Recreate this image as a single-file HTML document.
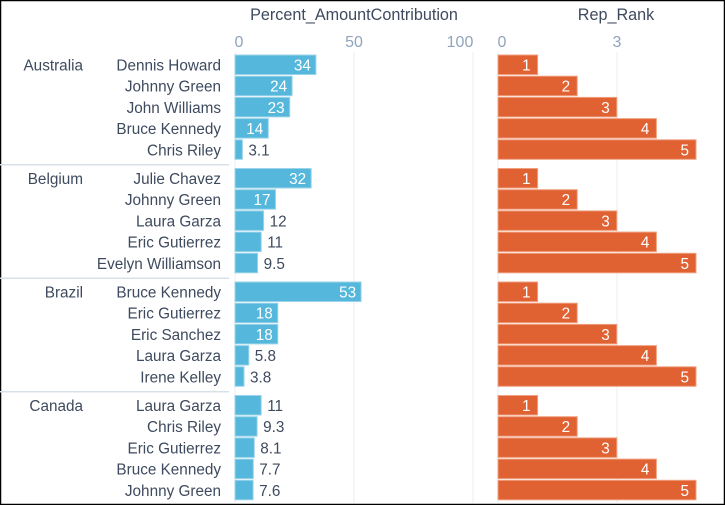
<!DOCTYPE html>
<html><head><meta charset="utf-8"><style>
html,body{margin:0;padding:0;background:#fff}
svg{display:block;font-family:"Liberation Sans",sans-serif;font-size:15.3px}
.n{fill:#3e4a5e;text-anchor:end}
.o{fill:#3e4a5e}
.w{fill:#fff;text-anchor:end}
.b{fill:#54b7db;stroke:#9bd4ea;stroke-width:1}
.r{fill:#e06233;stroke:#f0a080;stroke-width:1}
</style></head><body>
<svg width="725" height="505" viewBox="0 0 725 505">
<rect x="0.5" y="0.5" width="724" height="504" fill="#fff" stroke="#000" stroke-width="1.5"/>
<text x="354" y="20" fill="#3e4a5e" text-anchor="middle" font-size="16.2">Percent_AmountContribution</text>
<text x="616" y="20" fill="#3e4a5e" text-anchor="middle" font-size="16.2">Rep_Rank</text>
<g fill="#90a4bc" text-anchor="middle" font-size="16">
<text x="239" y="47">0</text><text x="354" y="47">50</text><text x="460" y="47">100</text>
<text x="502" y="47">0</text><text x="617" y="47">3</text>
</g>
<g stroke="#e8edf3" stroke-width="1">
<line x1="235" y1="52" x2="235" y2="503"/><line x1="354" y1="52" x2="354" y2="503"/><line x1="473" y1="52" x2="473" y2="503"/>
<line x1="498" y1="52" x2="498" y2="503"/><line x1="617" y1="52" x2="617" y2="503"/>
</g>
<g stroke="#d8e0ea" stroke-width="1.5">
<line x1="0" y1="164.7" x2="229" y2="164.7"/><line x1="0" y1="278.2" x2="229" y2="278.2"/><line x1="0" y1="391.7" x2="229" y2="391.7"/>
</g>

<!-- Australia -->
<g transform="translate(0,55)">
<text x="83" y="15.5" class="n">Australia</text>
<g><text x="221" y="15.5" class="n">Dennis Howard</text><rect x="235" y="0" width="80.9" height="19.5" class="b"/><text x="310.9" y="15.5" class="w">34</text></g>
<g transform="translate(0,21.2)"><text x="221" y="15.5" class="n">Johnny Green</text><rect x="235" y="0" width="57.1" height="19.5" class="b"/><text x="287.1" y="15.5" class="w">24</text></g>
<g transform="translate(0,42.4)"><text x="221" y="15.5" class="n">John Williams</text><rect x="235" y="0" width="54.7" height="19.5" class="b"/><text x="284.7" y="15.5" class="w">23</text></g>
<g transform="translate(0,63.6)"><text x="221" y="15.5" class="n">Bruce Kennedy</text><rect x="235" y="0" width="33.3" height="19.5" class="b"/><text x="263.3" y="15.5" class="w">14</text></g>
<g transform="translate(0,84.8)"><text x="221" y="15.5" class="n">Chris Riley</text><rect x="235" y="0" width="7.4" height="19.5" class="b"/><text x="248.4" y="15.5" class="o">3.1</text></g>
<rect x="498" y="0" width="39.6" height="19.5" class="r"/><text x="530.6" y="15.5" class="w">1</text>
<rect x="498" y="21.2" width="79.2" height="19.5" class="r"/><text x="570.2" y="36.7" class="w">2</text>
<rect x="498" y="42.4" width="118.8" height="19.5" class="r"/><text x="609.8" y="57.9" class="w">3</text>
<rect x="498" y="63.6" width="158.4" height="19.5" class="r"/><text x="649.4" y="79.1" class="w">4</text>
<rect x="498" y="84.8" width="198" height="19.5" class="r"/><text x="689" y="100.3" class="w">5</text>
</g>

<!-- Belgium -->
<g transform="translate(0,168.5)">
<text x="83" y="15.5" class="n">Belgium</text>
<g><text x="221" y="15.5" class="n">Julie Chavez</text><rect x="235" y="0" width="76.2" height="19.5" class="b"/><text x="306.2" y="15.5" class="w">32</text></g>
<g transform="translate(0,21.2)"><text x="221" y="15.5" class="n">Johnny Green</text><rect x="235" y="0" width="40.5" height="19.5" class="b"/><text x="270.5" y="15.5" class="w">17</text></g>
<g transform="translate(0,42.4)"><text x="221" y="15.5" class="n">Laura Garza</text><rect x="235" y="0" width="28.6" height="19.5" class="b"/><text x="269.6" y="15.5" class="o">12</text></g>
<g transform="translate(0,63.6)"><text x="221" y="15.5" class="n">Eric Gutierrez</text><rect x="235" y="0" width="26.2" height="19.5" class="b"/><text x="267.2" y="15.5" class="o">11</text></g>
<g transform="translate(0,84.8)"><text x="221" y="15.5" class="n">Evelyn Williamson</text><rect x="235" y="0" width="22.6" height="19.5" class="b"/><text x="263.6" y="15.5" class="o">9.5</text></g>
<rect x="498" y="0" width="39.6" height="19.5" class="r"/><text x="530.6" y="15.5" class="w">1</text>
<rect x="498" y="21.2" width="79.2" height="19.5" class="r"/><text x="570.2" y="36.7" class="w">2</text>
<rect x="498" y="42.4" width="118.8" height="19.5" class="r"/><text x="609.8" y="57.9" class="w">3</text>
<rect x="498" y="63.6" width="158.4" height="19.5" class="r"/><text x="649.4" y="79.1" class="w">4</text>
<rect x="498" y="84.8" width="198" height="19.5" class="r"/><text x="689" y="100.3" class="w">5</text>
</g>

<!-- Brazil -->
<g transform="translate(0,282)">
<text x="83" y="15.5" class="n">Brazil</text>
<g><text x="221" y="15.5" class="n">Bruce Kennedy</text><rect x="235" y="0" width="126.1" height="19.5" class="b"/><text x="356.1" y="15.5" class="w">53</text></g>
<g transform="translate(0,21.2)"><text x="221" y="15.5" class="n">Eric Gutierrez</text><rect x="235" y="0" width="42.8" height="19.5" class="b"/><text x="272.8" y="15.5" class="w">18</text></g>
<g transform="translate(0,42.4)"><text x="221" y="15.5" class="n">Eric Sanchez</text><rect x="235" y="0" width="42.8" height="19.5" class="b"/><text x="272.8" y="15.5" class="w">18</text></g>
<g transform="translate(0,63.6)"><text x="221" y="15.5" class="n">Laura Garza</text><rect x="235" y="0" width="13.8" height="19.5" class="b"/><text x="254.8" y="15.5" class="o">5.8</text></g>
<g transform="translate(0,84.8)"><text x="221" y="15.5" class="n">Irene Kelley</text><rect x="235" y="0" width="9" height="19.5" class="b"/><text x="250" y="15.5" class="o">3.8</text></g>
<rect x="498" y="0" width="39.6" height="19.5" class="r"/><text x="530.6" y="15.5" class="w">1</text>
<rect x="498" y="21.2" width="79.2" height="19.5" class="r"/><text x="570.2" y="36.7" class="w">2</text>
<rect x="498" y="42.4" width="118.8" height="19.5" class="r"/><text x="609.8" y="57.9" class="w">3</text>
<rect x="498" y="63.6" width="158.4" height="19.5" class="r"/><text x="649.4" y="79.1" class="w">4</text>
<rect x="498" y="84.8" width="198" height="19.5" class="r"/><text x="689" y="100.3" class="w">5</text>
</g>

<!-- Canada -->
<g transform="translate(0,395.5)">
<text x="83" y="15.5" class="n">Canada</text>
<g><text x="221" y="15.5" class="n">Laura Garza</text><rect x="235" y="0" width="26.2" height="19.5" class="b"/><text x="267.2" y="15.5" class="o">11</text></g>
<g transform="translate(0,21.2)"><text x="221" y="15.5" class="n">Chris Riley</text><rect x="235" y="0" width="22.1" height="19.5" class="b"/><text x="263.1" y="15.5" class="o">9.3</text></g>
<g transform="translate(0,42.4)"><text x="221" y="15.5" class="n">Eric Gutierrez</text><rect x="235" y="0" width="19.3" height="19.5" class="b"/><text x="260.3" y="15.5" class="o">8.1</text></g>
<g transform="translate(0,63.6)"><text x="221" y="15.5" class="n">Bruce Kennedy</text><rect x="235" y="0" width="18.3" height="19.5" class="b"/><text x="259.3" y="15.5" class="o">7.7</text></g>
<g transform="translate(0,84.8)"><text x="221" y="15.5" class="n">Johnny Green</text><rect x="235" y="0" width="18.1" height="19.5" class="b"/><text x="259.1" y="15.5" class="o">7.6</text></g>
<rect x="498" y="0" width="39.6" height="19.5" class="r"/><text x="530.6" y="15.5" class="w">1</text>
<rect x="498" y="21.2" width="79.2" height="19.5" class="r"/><text x="570.2" y="36.7" class="w">2</text>
<rect x="498" y="42.4" width="118.8" height="19.5" class="r"/><text x="609.8" y="57.9" class="w">3</text>
<rect x="498" y="63.6" width="158.4" height="19.5" class="r"/><text x="649.4" y="79.1" class="w">4</text>
<rect x="498" y="84.8" width="198" height="19.5" class="r"/><text x="689" y="100.3" class="w">5</text>
</g>
</svg>
</body></html>
